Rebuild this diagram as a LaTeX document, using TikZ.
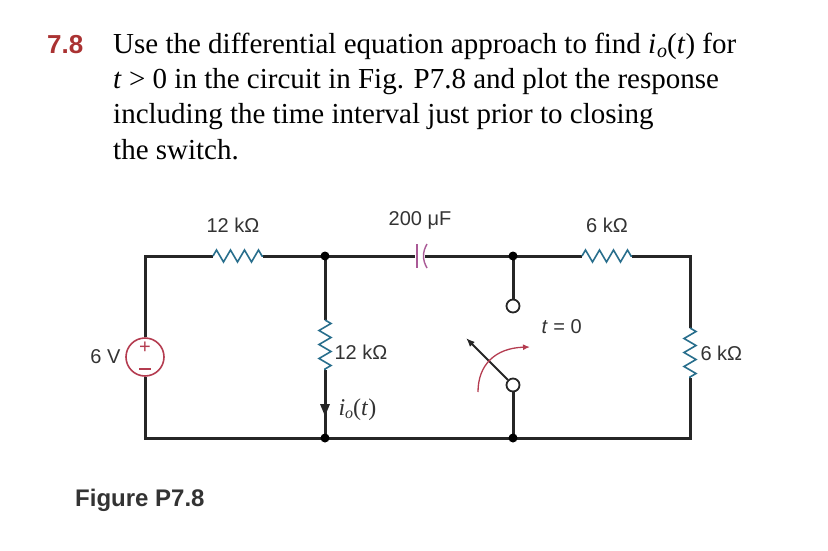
\documentclass[tikz,border=0pt]{standalone}
\usepackage{fontspec}
\setmainfont{Liberation Serif}
\newfontfamily\lsans{Liberation Sans}
\usetikzlibrary{decorations.pathmorphing,arrows.meta}
\definecolor{resc}{RGB}{40,110,140}
\definecolor{capc}{RGB}{170,90,150}
\definecolor{srcc}{RGB}{180,60,80}
\definecolor{numc}{RGB}{170,50,50}
\begin{document}
\begin{tikzpicture}[x=1pt,y=-1pt,
  wire/.style={line width=3pt,black!85},
  res/.style={line width=1.6pt,resc,decorate,decoration={zigzag,segment length=14pt,amplitude=6pt}},
  lab/.style={font=\lsans\fontsize{20}{22}\selectfont,text=black!80},
  txt/.style={font=\fontsize{29}{32}\selectfont,anchor=base west,inner sep=0pt},
  dot/.style={circle,fill=black,inner sep=0pt,minimum size=9pt},
  term/.style={circle,draw=black!85,line width=1.8pt,fill=white,inner sep=0pt,minimum size=13pt}]
\useasboundingbox (0,0) rectangle (828,550);
% text
\node[txt,text=numc,font=\lsans\bfseries\fontsize{26}{30}\selectfont] (n) at (47,53) {7.8};
\node[txt] (l1) at (113,53) {Use the differential equation approach to find \textit{i}\kern1pt\raisebox{-4pt}{\fontsize{20}{20}\selectfont\textit{o}}(\textit{t}) for};
\node[txt] (l2) at (113,88) {\textit{t} > 0 in the circuit in Fig. P7.8 and plot the response};
\node[txt] (l3) at (113,123) {including the time interval just prior to closing};
\node[txt] (l4) at (113,159) {the switch.};
\node[anchor=base west,inner sep=0pt,font=\lsans\bfseries\fontsize{24}{26}\selectfont,text=black!80] (fig) at (75,506) {Figure P7.8};
% coordinates
\coordinate (tl) at (145,256); \coordinate (bl) at (145,438);
\coordinate (tm) at (325,256); \coordinate (bm) at (325,438);
\coordinate (ts) at (513,256); \coordinate (bs) at (513,438);
\coordinate (tr) at (690,256); \coordinate (br) at (690,438);
\coordinate (r1a) at (213,256); \coordinate (r1b) at (263,256);
\coordinate (c1) at (415,256); \coordinate (c2) at (425,256);
\coordinate (r3a) at (582,256); \coordinate (r3b) at (632,256);
\coordinate (r2a) at (325,320); \coordinate (r2b) at (325,370);
\coordinate (r4a) at (690,328); \coordinate (r4b) at (690,378);
% wires
\node[circle,draw=srcc,line width=1.6pt,minimum size=38pt,inner sep=0pt] (src) at (145,357) {};
\draw[wire] (src.north) -- (tl) -- (r1a);
\draw[wire] (r1b) -- (tm) -- (c1);
\draw[wire] (c2) -- (ts) -- (r3a);
\draw[wire] (r3b) -- (tr) -- (r4a);
\draw[wire] (r4b) -- (br) -- (bl) -- (src.south);
\draw[wire] (tm) -- (r2a); \draw[wire] (r2b) -- (bm);
\draw[res] (r1a) -- (r1b);
\draw[res] (r3a) -- (r3b);
\draw[res] (r2a) -- (r2b);
\draw[res] (r4a) -- (r4b);
% capacitor
\draw[capc,line width=1.4pt] (417,244) -- (417,268);
\draw[capc,line width=1.4pt] (427,244) to[bend right=30] (427,268);
% source signs
\node[text=srcc,font=\lsans\fontsize{20}{20}\selectfont] (plus) at (145,348) {+};
\draw[srcc,line width=1.4pt] (139,369) -- (151,369);
% switch
\node[term] (st) at (513,306) {};
\node[term] (sb) at (513,385) {};
\draw[wire] (ts) -- (st.north);
\draw[wire] (sb.south) -- (bs);
\coordinate (blade) at (466,338);
\draw[black!85,line width=1.8pt,-{Latex[length=9pt,width=7pt]}] (sb.north west) -- (blade);
\draw[srcc,line width=1.3pt,-{Latex[length=7pt,width=6pt]}] (478,392) .. controls (478,365) and (495,348) .. (530,347);
\node[dot] at (tm) {}; \node[dot] at (bm) {};
\node[dot] at (ts) {}; \node[dot] at (bs) {};
% current arrow
\fill[black!85] (320,404) -- (330,404) -- (325,416) -- cycle;
% labels
\node[lab] (l12a) at (233,225) {12 kΩ};
\node[lab] (l200) at (420,220) {200 μF};
\node[lab] (l6a) at (607,225) {6 kΩ};
\node[lab,anchor=east] (l6v) at (124,357) {6 V};
\node[lab,anchor=west] (l12b) at (331,352) {12 kΩ};
\node[lab,anchor=west] (l6b) at (697,353) {6 kΩ};
\node[lab,anchor=west] (lt) at (538,327) {\textit{t} = 0};
\node[anchor=west,font=\fontsize{24}{24}\selectfont,text=black!80] (io) at (335,410) {\textit{i}\raisebox{-3pt}{\fontsize{16}{16}\selectfont\textit{o}}(\textit{t})};
\end{tikzpicture}
\end{document}
